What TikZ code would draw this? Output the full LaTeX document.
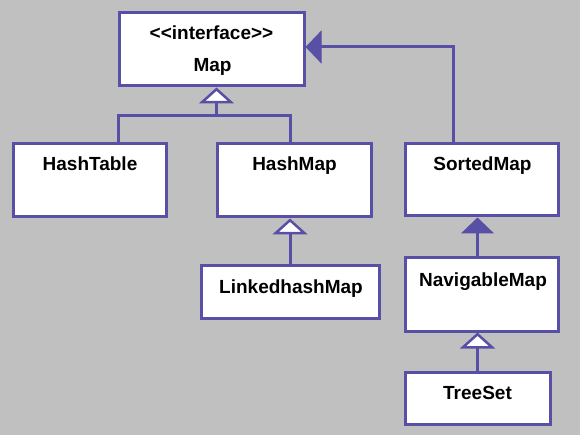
\documentclass[tikz,border=0pt]{standalone}
\usepackage{fontspec}
\setmainfont{Liberation Sans}[Ligatures=TeXOff]
\definecolor{UMLblue}{RGB}{88, 80, 166}
\definecolor{PanelGray}{RGB}{192, 192, 192}
\usetikzlibrary{arrows.meta, positioning}

\begin{document}
\begin{tikzpicture}[x=1pt, y=-1pt,
        box/.style={draw=UMLblue, line width=3pt, fill=white, inner sep=0pt},
        classname/.style={anchor=base, font=\fontsize{19}{22}\selectfont\bfseries, inner sep=0pt},
        link/.style={draw=UMLblue, line width=3pt},
        hollow/.style={-{Triangle[length=16pt 0 0, width=35pt 0 0, fill=white, line width=2.5pt]}},
        filled/.style={-{Triangle[length=16pt 0 0, width=33pt 0 0, fill=UMLblue, line width=1pt]}}]
        \fill[PanelGray] (0,0) rectangle (580,435);
        \useasboundingbox (0,0) rectangle (580,435);

        \node[box, minimum width=185pt, minimum height=73pt] (map) at (211.5,49.5) {};
        \node[box, minimum width=153pt, minimum height=73pt] (hashtable) at (89.5,180.5) {};
        \node[box, minimum width=154pt, minimum height=73pt] (hashmap) at (294,180.5) {};
        \node[box, minimum width=178pt, minimum height=52pt] (linkedmap) at (290,292) {};
        \node[box, minimum width=153pt, minimum height=72pt] (sortedmap) at (481.5,180) {};
        \node[box, minimum width=153pt, minimum height=73pt] (navmap) at (481.5,294.5) {};
        \node[box, minimum width=145pt, minimum height=52pt] (treeset) at (477.5,398) {};

        \node[classname] (maptag) at (211.5,40) {<<interface>>};
        \node[classname] (maptext) at (212.5,72) {Map};
        \node[classname] (hashtabletext) at (90,171) {HashTable};
        \node[classname] (hashmaptext) at (294.5,171) {HashMap};
        \node[classname] (linkedtext) at (291,294) {LinkedhashMap};
        \node[classname] (sortedtext) at (482.5,171) {SortedMap};
        \node[classname] (navtext) at (483,286) {NavigableMap};
        \node[classname] (treesettext) at (477.5,399) {TreeSet};

        \coordinate (mapjoin) at (216.5,116);

        \draw[link] ([xshift=28.5pt]hashtable.north) |- (mapjoin) -| ([xshift=-4pt]hashmap.north);
        \draw[link, hollow] (mapjoin) -- (map.south -| mapjoin);
        \draw[link, hollow] (linkedmap.north) -- (linkedmap.north |- hashmap.south);

        \draw[link, filled] ([xshift=-28.5pt]sortedmap.north) |- ([yshift=2.5pt]map.east);
        \draw[link, filled] (navmap.north -| treeset.north) -- (sortedmap.south -| treeset.north);
        \draw[link, hollow] (treeset.north) -- (treeset.north |- navmap.south);
    \end{tikzpicture}
\end{document}
